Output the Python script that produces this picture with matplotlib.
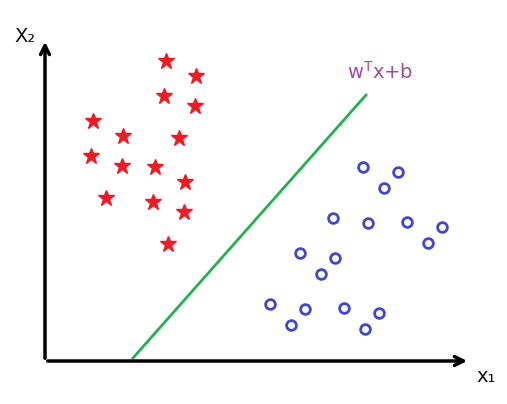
import matplotlib
matplotlib.use('Agg')
import matplotlib.pyplot as plt
import numpy as np

# class 1 (stars), coordinates measured from the axis origin
star_x = [121, 151, 119, 150, 48, 78, 134, 46, 77, 110, 140, 61, 108, 139, 123]
star_y = [300, 285, 265, 255, 240, 225, 223, 205, 195, 194, 179, 163, 159, 149, 117]

# class 2 (circles)
circ_x = [318, 353, 339, 288, 323, 362, 397, 383, 255, 290, 276, 225, 260, 299, 334, 246, 320]
circ_y = [194, 189, 173, 143, 138, 139, 134, 118, 108, 103, 87, 57, 52, 53, 48, 36, 32]

# separating line w^T x + b = 0 (two end points)
line_x = [88, 321]
line_y = [3, 266]

x_end, y_end = 425, 322

fig = plt.figure(figsize=(5.07, 4.04), dpi=100)
ax = fig.add_axes([0, 0, 1, 1])
ax.set_xlim(-45, 462)
ax.set_ylim(-43, 361)
ax.axis('off')

# axes with arrows
ax.annotate('', xy=(x_end, 0), xytext=(0, 0),
            arrowprops=dict(arrowstyle='->', lw=2.5, color='black', mutation_scale=16))
ax.annotate('', xy=(0, y_end), xytext=(0, 0),
            arrowprops=dict(arrowstyle='->', lw=2.5, color='black', mutation_scale=16))
ax.text(-20, 325, 'X₂', fontsize=14, ha='center', va='center', color='#111111')
ax.text(441, -15, 'x₁', fontsize=14, ha='center', va='center', color='#111111')

ax.plot(line_x, line_y, color='#22b14c', lw=2)
ax.text(335, 289, 'w$^{\\mathregular{T}}$x+b', fontsize=14, color='#a349a4', ha='center', va='center')

ax.plot(star_x, star_y, ls='none', marker='*', markersize=12, color='#ed1c24')
ax.plot(circ_x, circ_y, ls='none', marker='o', markersize=7, markerfacecolor='white',
        markeredgecolor='#3f48cc', markeredgewidth=2)

fig.savefig('out.png', dpi=100)
